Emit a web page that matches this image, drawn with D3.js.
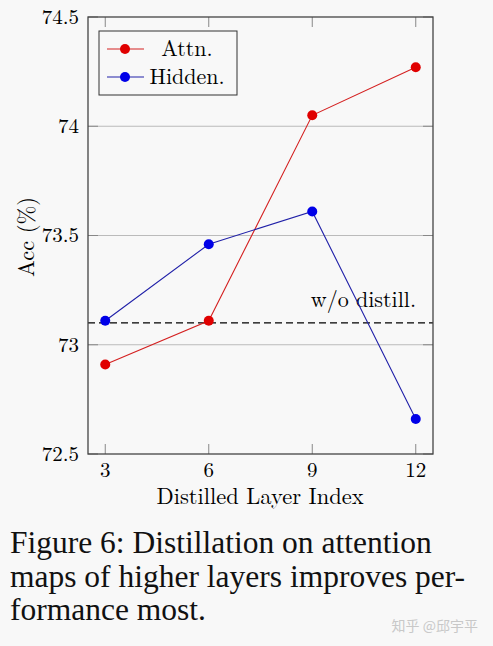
<!DOCTYPE html>
<html lang="en">
<head>
<meta charset="utf-8">
<title>Figure 6</title>
<script src="https://cdn.jsdelivr.net/npm/d3@7"></script>
<style>
  html, body { margin: 0; padding: 0; background: #f8f8f8; }
  svg { display: block; }
</style>
</head>
<body>
<div id="chart"></div>
<script>
// data
var layers = [3, 6, 9, 12];
var attn = [72.91, 73.11, 74.05, 74.27];
var hidden = [73.11, 73.46, 73.61, 72.66];
var baseline = 73.1;
var yTicks = [72.5, 73, 73.5, 74, 74.5];
var gridTicks = [73, 73.5, 74];
var captionLines = [
  "Figure 6: Distillation on attention",
  "maps of higher layers improves per-",
  "formance most."
];

var W = 493, H = 646;
var m = {left: 88, right: 433, top: 17, bottom: 454};
var serif = "Latin Modern Roman";

var svg = d3.select("#chart").append("svg")
  .attr("width", W).attr("height", H);

svg.append("rect").attr("width", W).attr("height", H).attr("fill", "#f8f8f8");

var x = d3.scaleLinear().domain([2.5, 12.5]).range([m.left, m.right]);
var y = d3.scaleLinear().domain([72.5, 74.5]).range([m.bottom, m.top]);

// grid
svg.append("g").selectAll("line").data(gridTicks).enter().append("line")
  .attr("x1", m.left).attr("x2", m.right)
  .attr("y1", function (d) { return y(d); }).attr("y2", function (d) { return y(d); })
  .attr("stroke", "#bbb").attr("stroke-width", 1);

// inward ticks
var tk = svg.append("g").attr("stroke", "#888").attr("stroke-width", 1);
layers.forEach(function (l) {
  tk.append("line").attr("x1", x(l)).attr("x2", x(l)).attr("y1", m.top).attr("y2", m.top + 10);
  tk.append("line").attr("x1", x(l)).attr("x2", x(l)).attr("y1", m.bottom).attr("y2", m.bottom - 10);
});
yTicks.forEach(function (v) {
  tk.append("line").attr("x1", m.right).attr("x2", m.right - 10).attr("y1", y(v)).attr("y2", y(v));
  tk.append("line").attr("x1", m.left).attr("x2", m.left + 10).attr("y1", y(v)).attr("y2", y(v));
});

// dashed baseline
svg.append("line")
  .attr("x1", m.left).attr("x2", m.right)
  .attr("y1", y(baseline)).attr("y2", y(baseline))
  .attr("stroke", "#000").attr("stroke-width", 1.2)
  .attr("stroke-dasharray", "7,4");

svg.append("text")
  .attr("x", 416).attr("y", y(baseline) - 16)
  .attr("text-anchor", "end")
  .style("font-family", serif).style("font-size", "22px")
  .text("w/o distill.");

// frame
svg.append("rect")
  .attr("x", m.left).attr("y", m.top)
  .attr("width", m.right - m.left).attr("height", m.bottom - m.top)
  .attr("fill", "none").attr("stroke", "#444").attr("stroke-width", 1.3);

// series
var line = d3.line()
  .x(function (d, i) { return x(layers[i]); })
  .y(function (d) { return y(d); });

var series = [
  {name: "Attn.", values: attn, color: "#e00000", stroke: "#d42020"},
  {name: "Hidden.", values: hidden, color: "#0000e8", stroke: "#2020a8"}
];

series.forEach(function (s) {
  svg.append("path").datum(s.values)
    .attr("d", line)
    .attr("fill", "none").attr("stroke", s.stroke).attr("stroke-width", 1.1);
  svg.append("g").selectAll("circle").data(s.values).enter().append("circle")
    .attr("cx", function (d, i) { return x(layers[i]); })
    .attr("cy", function (d) { return y(d); })
    .attr("r", 5)
    .attr("fill", s.color);
});

// axis labels
svg.append("g").selectAll("text").data(yTicks).enter().append("text")
  .attr("x", m.left - 9).attr("y", function (d) { return y(d); })
  .attr("dy", "0.33em").attr("text-anchor", "end")
  .style("font-family", serif).style("font-size", "21px")
  .text(function (d) { return d; });

svg.append("g").selectAll("text").data(layers).enter().append("text")
  .attr("x", function (d) { return x(d); }).attr("y", 477)
  .attr("text-anchor", "middle")
  .style("font-family", serif).style("font-size", "21px")
  .text(function (d) { return d; });

svg.append("text")
  .attr("x", 260).attr("y", 504)
  .attr("text-anchor", "middle")
  .style("font-family", serif).style("font-size", "22.5px")
  .text("Distilled Layer Index");

svg.append("text")
  .attr("transform", "translate(34,237) rotate(-90)")
  .attr("text-anchor", "middle")
  .style("font-family", serif).style("font-size", "22.5px")
  .text("Acc (%)");

// legend
var lg = svg.append("g").attr("transform", "translate(99,31)");
lg.append("rect").attr("width", 138).attr("height", 64)
  .attr("fill", "#f8f8f8").attr("stroke", "#333").attr("stroke-width", 1);
series.forEach(function (s, i) {
  var yy = 18 + i * 28;
  lg.append("line").attr("x1", 8).attr("x2", 45).attr("y1", yy).attr("y2", yy)
    .attr("stroke", s.stroke).attr("stroke-width", 1.1);
  lg.append("circle").attr("cx", 26).attr("cy", yy).attr("r", 5).attr("fill", s.color);
  lg.append("text").attr("x", 88).attr("y", yy).attr("dy", "0.33em")
    .attr("text-anchor", "middle")
    .style("font-family", serif).style("font-size", "22px")
    .text(s.name);
});

// caption
svg.append("g").selectAll("text").data(captionLines).enter().append("text")
  .attr("x", 10).attr("y", function (d, i) { return 553 + i * 33.5; })
  .style("font-family", "Liberation Serif")
  .style("font-size", "31.5px")
  .attr("fill", "#111")
  .text(function (d) { return d; });

// watermark
svg.append("text")
  .attr("x", 478).attr("y", 631)
  .attr("text-anchor", "end")
  .style("font-family", "Noto Sans CJK SC")
  .style("font-size", "14px")
  .attr("fill", "#c8c8c8")
  .text("知乎 @邱宇平");
</script>
</body>
</html>
